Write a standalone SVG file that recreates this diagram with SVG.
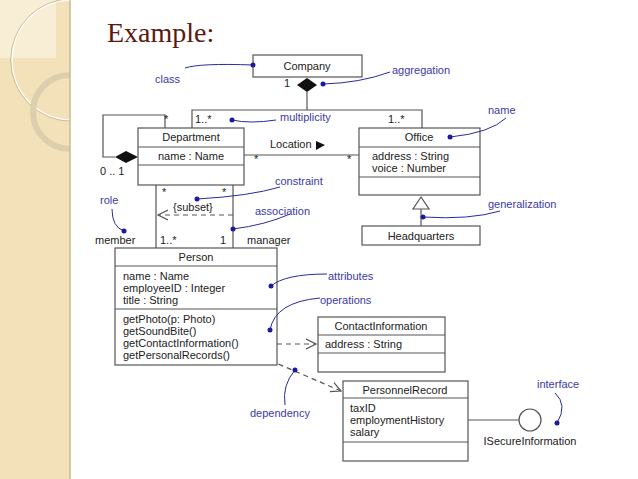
<svg xmlns="http://www.w3.org/2000/svg" width="638" height="479" viewBox="0 0 638 479">
<style>
.b{fill:#fff;stroke:#555;stroke-width:1.2}
.l{stroke:#555;stroke-width:1.2;fill:none}
.d{stroke:#555;stroke-width:1.2;fill:none;stroke-dasharray:5,4}
text{font-family:"Liberation Sans",Arial,sans-serif;font-size:11px;fill:#222}
.c{text-anchor:middle}
.a{fill:#3a3aa8;font-size:11px}
.n{stroke:#2a2aa0;stroke-width:1;fill:none}
.dot{fill:#1a1aa0}
</style>
<defs>
<marker id="oa" markerWidth="12" markerHeight="12" refX="10" refY="6" orient="auto" markerUnits="userSpaceOnUse"><path d="M0,1 L10,6 L0,11" fill="none" stroke="#555" stroke-width="1.2"/></marker>
<clipPath id="sb"><rect width="70" height="479"/></clipPath>
</defs>
<rect width="638" height="479" fill="#fff"/>
<g id="sidebar">
<rect width="70" height="479" fill="#f2e1b9"/>
<g clip-path="url(#sb)">
<rect x="0" y="0" width="56" height="58" fill="#f8eed5"/>
<circle cx="72" cy="60" r="60" fill="none" stroke="#fff" stroke-width="1.5"/>
<circle cx="72" cy="60" r="61.3" fill="none" stroke="#b9a680" stroke-width="0.7"/>
<circle cx="70" cy="112" r="37" fill="none" stroke="#ddcfae" stroke-width="6"/>
</g>
<line x1="70" y1="0" x2="70" y2="479" stroke="#cdb890" stroke-width="1.5"/>
</g>
<text x="107" y="42" style="font-family:'Liberation Serif',serif;font-size:28px;fill:#5a1a10">Example:</text>
<g id="connectors">
<polygon points="297,85 307,78 317,85 307,92" fill="#111"/>
<polyline class="l" points="307,92 307,110"/>
<polyline class="l" points="192,128 192,110 422,110 422,128"/>
<polygon points="115,157 126,151 138,157 126,163" fill="#111"/>
<polyline class="l" points="115,157 103,157 103,115 165,115 165,128"/>
<line class="l" x1="244" y1="155" x2="359" y2="155"/>
<polygon points="316,141 325,145 316,150" fill="#111"/>
<polygon points="421,197 413,209 429,209" fill="#fff" stroke="#555" stroke-width="1.2"/>
<line class="l" x1="421" y1="209" x2="421" y2="226"/>
<line class="l" x1="156" y1="185" x2="156" y2="248"/>
<line class="l" x1="233" y1="185" x2="233" y2="248"/>
<line class="d" x1="233" y1="215" x2="158" y2="215" marker-end="url(#oa)"/>
<line class="d" x1="277" y1="344" x2="316" y2="344" marker-end="url(#oa)"/>
<line class="d" x1="262" y1="357" x2="341" y2="391" marker-end="url(#oa)"/>
<line class="l" x1="468" y1="420" x2="519" y2="420"/>
<circle cx="530" cy="420" r="11" fill="#fff" stroke="#555" stroke-width="1.2"/>
</g>
<g id="company"><rect class="b" x="253" y="55" width="109" height="22"/><text class="c" x="307" y="70">Company</text></g>
<g id="department"><rect class="b" x="138" y="128" width="106" height="57"/><line class="l" x1="138" y1="147" x2="244" y2="147"/><line class="l" x1="138" y1="165" x2="244" y2="165"/><text class="c" x="191" y="141">Department</text><text class="c" x="191" y="160">name : Name</text></g>
<g id="office"><rect class="b" x="359" y="128" width="121" height="67"/><line class="l" x1="359" y1="147" x2="480" y2="147"/><line class="l" x1="359" y1="177" x2="480" y2="177"/><text class="c" x="419" y="141">Office</text><text x="372" y="160">address : String</text><text x="372" y="172">voice : Number</text></g>
<g id="headquarters"><rect class="b" x="362" y="226" width="118" height="19"/><text class="c" x="421" y="240">Headquarters</text></g>
<g id="person"><rect class="b" x="115" y="248" width="162" height="117"/><line class="l" x1="115" y1="266" x2="277" y2="266"/><line class="l" x1="115" y1="309" x2="277" y2="309"/><text class="c" x="196" y="261">Person</text>
<text x="123" y="280">name : Name</text><text x="123" y="292">employeeID : Integer</text><text x="123" y="304">title : String</text>
<text x="123" y="323">getPhoto(p: Photo)</text><text x="123" y="335">getSoundBite()</text><text x="123" y="347">getContactInformation()</text><text x="123" y="359">getPersonalRecords()</text></g>
<g id="contact"><rect class="b" x="318" y="317" width="127" height="55"/><line class="l" x1="318" y1="335" x2="445" y2="335"/><line class="l" x1="318" y1="353" x2="445" y2="353"/><text class="c" x="381" y="330">ContactInformation</text><text x="325" y="348">address : String</text></g>
<g id="personnel"><rect class="b" x="343" y="381" width="125" height="80"/><line class="l" x1="343" y1="398" x2="468" y2="398"/><line class="l" x1="343" y1="442" x2="468" y2="442"/><text class="c" x="405" y="394">PersonnelRecord</text><text x="350" y="412">taxID</text><text x="350" y="424">employmentHistory</text><text x="350" y="436">salary</text></g>
<g id="labels">
<text x="284" y="87">1</text>
<text x="195" y="123">1..*</text><text x="388" y="123">1..*</text>
<text x="164" y="123">*</text><text x="100" y="175">0 .. 1</text>
<text x="270" y="148">Location</text>
<text x="254" y="163">*</text><text x="347" y="163">*</text>
<text x="162" y="196">*</text><text x="222" y="196">*</text>
<text x="173" y="211">{subset}</text>
<text x="95" y="244">member</text><text x="160" y="244">1..*</text><text x="220" y="244">1</text><text x="247" y="244">manager</text>
<text class="c" x="530" y="445">ISecureInformation</text>
</g>
<g id="annotations">
<path class="n" d="M185,68 Q200,63 253,65"/><circle class="dot" cx="253" cy="65" r="2.5"/><text class="a" x="155" y="83">class</text>
<path class="n" d="M323,84 Q360,83 390,72"/><circle class="dot" cx="323" cy="84" r="2.5"/><text class="a" x="392" y="74">aggregation</text>
<path class="n" d="M232,120 Q250,124 276,120"/><circle class="dot" cx="232" cy="120" r="2.5"/><text class="a" x="280" y="121">multiplicity</text>
<path class="n" d="M450,137 Q490,133 506,118"/><circle class="dot" cx="450" cy="137" r="2.5"/><text class="a" x="488" y="114">name</text>
<path class="n" d="M197,199 Q250,196 280,187"/><circle class="dot" cx="197" cy="199" r="2.5"/><text class="a" x="275" y="185">constraint</text>
<path class="n" d="M233,229 Q265,225 290,214"/><circle class="dot" cx="233" cy="229" r="2.5"/><text class="a" x="255" y="215">association</text>
<path class="n" d="M112,209 Q112,227 124,231"/><circle class="dot" cx="124" cy="231" r="2.5"/><text class="a" x="100" y="204">role</text>
<path class="n" d="M423,217 Q470,220 500,211"/><circle class="dot" cx="423" cy="217" r="2.5"/><text class="a" x="488" y="208">generalization</text>
<path class="n" d="M271,286 Q285,274 327,274"/><circle class="dot" cx="271" cy="286" r="2.5"/><text class="a" x="328" y="280">attributes</text>
<path class="n" d="M270,330 Q275,302 320,298"/><circle class="dot" cx="270" cy="330" r="2.5"/><text class="a" x="320" y="304">operations</text>
<path class="n" d="M295,370 Q282,385 285,405"/><circle class="dot" cx="295" cy="370" r="2.5"/><text class="a" x="250" y="417">dependency</text>
<path class="n" d="M557,423 Q568,405 555,393"/><circle class="dot" cx="557" cy="423" r="2.5"/><text class="a" x="537" y="388">interface</text>
</g>
</svg>
